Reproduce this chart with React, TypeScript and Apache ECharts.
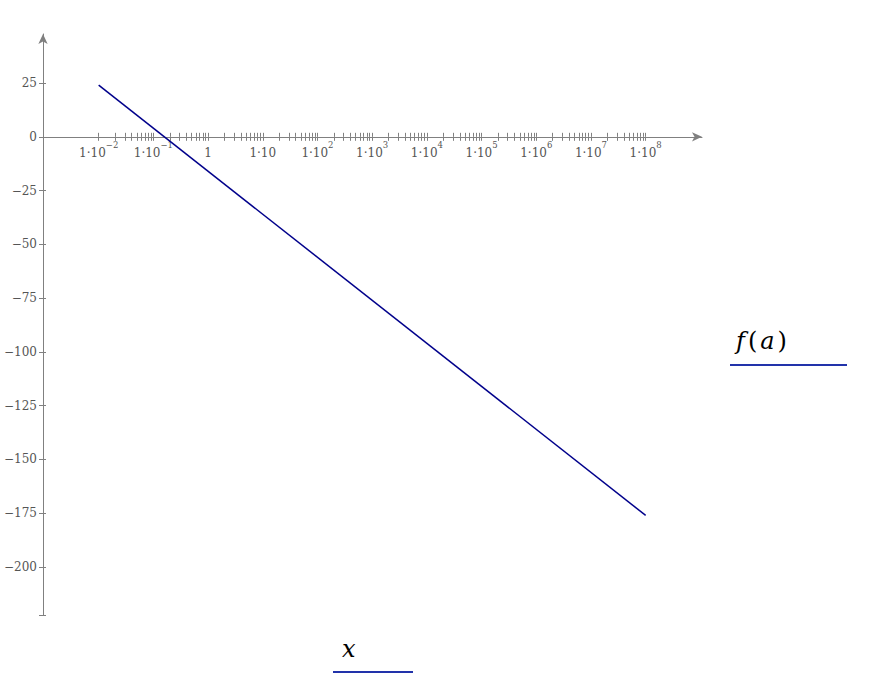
import React, { useEffect, useRef } from "react";
import * as echarts from "echarts";

// Data
const xValues = [0.01, 1e8];
const fValues = [24, -176];

// Axis decorations
const xLabelExponents = [-2, -1, 0, 1, 2, 3, 4, 5, 6, 7, 8];
const xMinorMultipliers = [2, 3, 4, 5, 6, 7, 8, 9];
const yTickValues = [25, 0, -25, -50, -75, -100, -125, -150, -175, -200];
const xMin = Math.pow(10, -3.018);
const xMax = Math.pow(10, 9.03);
const yMin = -222.3;
const yMax = 47.8;

const AXIS = "#808080";
const TEXT = "#555555";
const CURVE = "#00008b";
const LEG = "#2233aa";

const W = 876;
const H = 685;
const G_LEFT = 43;
const G_RIGHT = 174;
const G_TOP = 34;
const G_BOTTOM = 70;
// bottom offset of a second grid whose lower edge sits on y = 0
const ZERO_BOTTOM =
  G_BOTTOM + ((0 - yMin) / (yMax - yMin)) * (H - G_TOP - G_BOTTOM);

const xMajorValues = xLabelExponents.map((e) => Math.pow(10, e));
const xTickValues: number[] = [];
xLabelExponents.forEach((e, i) => {
  xTickValues.push(Math.pow(10, e));
  if (i < xLabelExponents.length - 1) {
    xMinorMultipliers.forEach((m) => xTickValues.push(m * Math.pow(10, e)));
  }
});

const minus = (n: number) => (n < 0 ? "\u2212" + Math.abs(n) : String(n));

function xLabel(v: number): string {
  const e = Math.round(Math.log10(v));
  if (e === 0) return "{b|1}";
  if (e === 1) return "{b|1\u00b710}";
  return "{b|1\u00b710}{s|" + minus(e) + "}";
}

export default function App() {
  const ref = useRef<HTMLDivElement>(null);
  useEffect(() => {
    if (!ref.current) return;
    const chart = echarts.init(ref.current, undefined, { renderer: "svg" });
    const baseX = {
      type: "log" as const,
      logBase: 10,
      min: xMin,
      max: xMax,
      splitLine: { show: false },
      minorTick: { show: false },
    };
    const baseY = {
      type: "value" as const,
      min: yMin,
      max: yMax,
      splitLine: { show: false },
    };
    chart.setOption({
      animation: false,
      backgroundColor: "#ffffff",
      grid: [
        { left: G_LEFT, right: G_RIGHT, top: G_TOP, bottom: G_BOTTOM },
        { left: G_LEFT, right: G_RIGHT, top: G_TOP, bottom: ZERO_BOTTOM },
      ],
      xAxis: [
        { ...baseX, gridIndex: 0, show: false },
        {
          ...baseX,
          gridIndex: 1,
          position: "bottom",
          axisLine: {
            show: true,
            onZero: false,
            symbol: ["none", "arrow"],
            symbolSize: [7, 10],
            lineStyle: { color: AXIS, width: 1 },
          },
          axisTick: {
            show: true,
            inside: false,
            length: 4,
            customValues: xTickValues,
            lineStyle: { color: AXIS },
          },
          axisLabel: {
            show: true,
            margin: 4,
            customValues: xMajorValues,
            formatter: (v: number) => xLabel(v),
            rich: {
              b: {
                fontFamily: "DejaVu Serif",
                fontSize: 12,
                color: TEXT,
                lineHeight: 18,
                verticalAlign: "bottom",
              },
              s: {
                fontFamily: "DejaVu Serif",
                fontSize: 8.5,
                color: TEXT,
                lineHeight: 18,
                verticalAlign: "top",
              },
            },
          },
        },
        {
          ...baseX,
          gridIndex: 1,
          position: "bottom",
          axisLine: { show: false, onZero: false },
          axisTick: {
            show: true,
            inside: true,
            length: 4,
            customValues: xTickValues,
            lineStyle: { color: AXIS },
          },
          axisLabel: { show: false },
        },
      ],
      yAxis: [
        {
          ...baseY,
          gridIndex: 0,
          position: "left",
          axisLine: {
            show: true,
            onZero: false,
            symbol: ["none", "arrow"],
            symbolSize: [7, 10],
            lineStyle: { color: AXIS, width: 1 },
          },
          axisTick: {
            show: true,
            inside: false,
            length: 4,
            customValues: [...yTickValues, yMin],
            lineStyle: { color: AXIS },
          },
          axisLabel: {
            show: true,
            margin: 6,
            customValues: yTickValues,
            formatter: (v: number) => minus(v),
            fontFamily: "DejaVu Serif",
            fontSize: 12,
            color: TEXT,
          },
        },
        {
          ...baseY,
          gridIndex: 0,
          position: "left",
          axisLine: { show: false, onZero: false },
          axisTick: {
            show: true,
            inside: true,
            length: 3,
            customValues: [...yTickValues, yMin],
            lineStyle: { color: AXIS },
          },
          axisLabel: { show: false },
        },
        { type: "value", gridIndex: 1, min: 0, max: 1, show: false },
      ],
      series: [
        {
          type: "line",
          xAxisIndex: 0,
          yAxisIndex: 0,
          data: xValues.map((x, i) => [x, fValues[i]]),
          showSymbol: false,
          symbol: "none",
          lineStyle: { color: CURVE, width: 1.5 },
        },
      ],
      graphic: [
        {
          type: "text",
          left: 736,
          top: 329,
          style: {
            text: "{i|f}{p|(}{i|a}{p|)}",
            rich: {
              i: {
                fontFamily: "DejaVu Serif",
                fontStyle: "italic",
                fontSize: 24,
                fill: "#000",
                padding: [0, 2, 0, 2],
              },
              p: {
                fontFamily: "DejaVu Serif",
                fontSize: 24,
                fill: "#000",
                padding: [0, 1, 0, 1],
              },
            },
          },
        },
        {
          type: "line",
          shape: { x1: 730, y1: 365, x2: 847, y2: 365 },
          style: { stroke: LEG, lineWidth: 2 },
        },
        {
          type: "text",
          left: 342,
          top: 637,
          style: {
            text: "x",
            fontFamily: "DejaVu Serif",
            fontStyle: "italic",
            fontSize: 24,
            fill: "#000",
          },
        },
        {
          type: "line",
          shape: { x1: 333, y1: 672, x2: 413, y2: 672 },
          style: { stroke: LEG, lineWidth: 2 },
        },
      ],
    });
    return () => chart.dispose();
  }, []);
  return (
    <div
      ref={ref}
      style={{ position: "fixed", left: 0, top: 0, width: W, height: H, background: "#fff" }}
    />
  );
}
